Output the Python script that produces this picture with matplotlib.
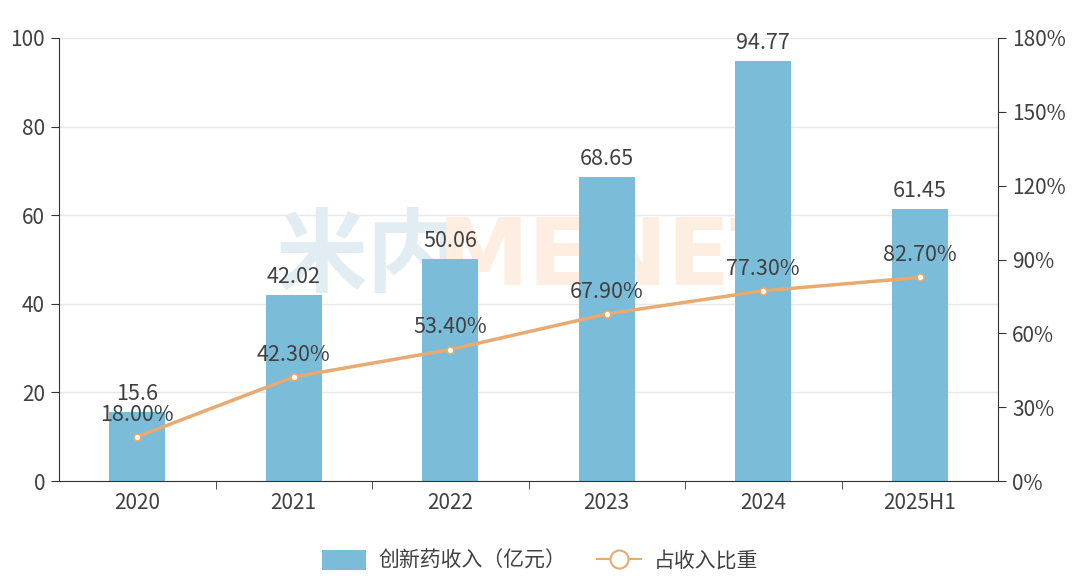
import matplotlib; matplotlib.use("Agg")
import matplotlib.pyplot as plt
import numpy as np
from matplotlib.lines import Line2D
from matplotlib.patches import Patch

plt.rcParams['font.family'] = ['Noto Sans CJK SC', 'DejaVu Sans']

categories = ["2020", "2021", "2022", "2023", "2024", "2025H1"]
revenue = [15.6, 42.02, 50.06, 68.65, 94.77, 61.45]          # 创新药收入（亿元）
share = [18.00, 42.30, 53.40, 67.90, 77.30, 82.70]           # 占收入比重 %
revenue_labels = ["15.6", "42.02", "50.06", "68.65", "94.77", "61.45"]

BAR = "#7bbcd9"; LINE = "#e8aa70"; TXT = "#404040"; AX = "#333333"

fig = plt.figure(figsize=(10.8, 5.87), dpi=100)
ax = fig.add_axes([59/1080, 1 - 481/587, (998 - 59)/1080, (481 - 38)/587])
x = np.arange(len(categories))

# faint watermark, behind the bars
ax.text(0.255, 0.56, "米内", transform=fig.transFigure, fontsize=66, color="#e1edf3", ha="left", va="center",
        fontweight="bold", zorder=1)
ax.text(0.405, 0.56, "MENET", transform=fig.transFigure, fontsize=66, color="#fdeee1", ha="left", va="center",
        fontweight="bold", zorder=1, family="DejaVu Sans")

ax.bar(x, revenue, width=0.36, color=BAR, zorder=2)
for xi, v, s in zip(x, revenue, revenue_labels):
    ax.annotate(s, (xi, v), xytext=(0, 5), textcoords="offset points", ha="center", va="bottom",
                fontsize=15.5, color=TXT, zorder=5)

ax.set_xlim(-0.5, len(categories) - 0.5)
ax.set_ylim(0, 100)
ax.set_yticks(range(0, 101, 20))
ax.set_xticks(x)
ax.set_xticklabels(categories)
ax.set_xticks(np.arange(0.5, len(categories) - 0.5), minor=True)
ax.tick_params(axis="x", which="major", length=0, pad=8, labelsize=15, labelcolor=TXT)
ax.tick_params(axis="x", which="minor", length=6, color=AX, direction="out")
ax.tick_params(axis="y", length=6, color=AX, labelsize=15, labelcolor=TXT, pad=4)
ax.grid(axis="y", color="#e8e8e8", lw=1, zorder=0)
ax.set_axisbelow(True)
for sp in ["top", "right"]:
    ax.spines[sp].set_visible(False)
ax.spines["left"].set_color(AX); ax.spines["bottom"].set_color(AX)
ax.patch.set_alpha(0)

ax2 = ax.twinx()
ax2.set_ylim(0, 180)
ax2.set_yticks(range(0, 181, 30))
ax2.set_yticklabels([f"{t}%" for t in range(0, 181, 30)])
ax2.tick_params(axis="y", length=6, color=AX, labelsize=15, labelcolor=TXT, pad=4)
for sp in ["top", "left", "bottom"]:
    ax2.spines[sp].set_visible(False)
ax2.spines["right"].set_color(AX)
ax2.plot(x, share, color=LINE, lw=2.5, marker="o", ms=5, mfc="white", mec=LINE, mew=1.2, zorder=4)
for xi, v in zip(x, share):
    ax2.annotate(f"{v:.2f}%", (xi, v), xytext=(0, 8), textcoords="offset points", ha="center", va="bottom",
                 fontsize=15.5, color=TXT, zorder=5)

handles = [Patch(facecolor=BAR, edgecolor="none"),
           Line2D([], [], color=LINE, lw=1.5, marker="o", ms=13, mfc="white", mec=LINE, mew=1.5)]
fig.legend(handles, ["创新药收入（亿元）", "占收入比重"], loc="center", bbox_to_anchor=(0.5, 1 - 561/587),
           ncol=2, frameon=False, fontsize=15, labelcolor=TXT, handlelength=2.1, handleheight=1.1,
           columnspacing=1.5, handletextpad=0.6)

fig.savefig("out.png", dpi=100)
